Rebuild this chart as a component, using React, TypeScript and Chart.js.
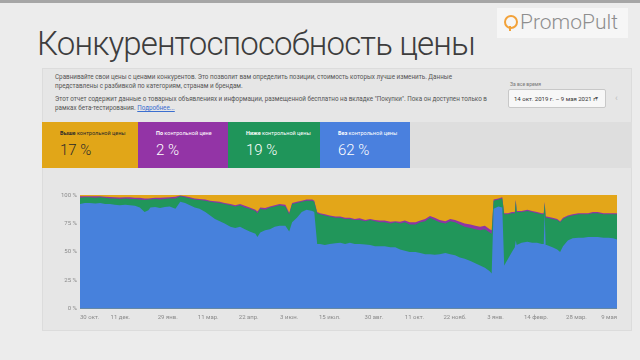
import React, { useEffect, useRef } from "react";
import { Chart, registerables } from "chart.js";

Chart.register(...registerables);

// x tick labels (day offsets from 30 Oct 2019)
const tickDays = [0, 42, 91, 133, 175, 217, 259, 305, 347, 389, 431, 473, 515, 557];
const tickLabels = ["30 окт.", "11 дек.", "29 янв.", "11 мар.", "22 апр.", "3 июн.", "15 июл.", "30 авг.", "11 окт.", "22 нояб.", "3 янв.", "14 февр.", "28 мар.", "9 мая"];
const yTicks = [0, 25, 50, 75, 100];

// sample days (offset from 30 Oct 2019)
const days = [0, 5, 10, 16, 21, 26, 31, 36, 41, 47, 52, 57, 62, 67, 71, 73, 78, 83, 88, 93, 99, 104, 109, 114, 119, 124, 130, 135, 140, 145, 150, 156, 161, 166, 171, 176, 182, 184, 187, 192, 197, 202, 207, 213, 217, 220, 225, 230, 235, 241, 243, 246, 249, 254, 259, 265, 270, 275, 280, 285, 290, 296, 301, 306, 311, 316, 322, 327, 332, 337, 342, 348, 353, 358, 363, 368, 373, 379, 384, 389, 394, 399, 405, 410, 415, 420, 425, 427, 429, 434, 438, 440, 444, 448, 451, 452, 453, 458, 464, 469, 474, 479, 481, 482, 483, 484, 490, 495, 498, 501, 506, 511, 517, 522, 527, 532, 537, 543, 548, 553, 557];

// "Без контрольной цены" (blue)
const noBenchmark = [92, 93, 93, 92.5, 93, 92, 92, 91.5, 91, 91.5, 91, 90.5, 89, 85, 86.5, 89, 89.5, 88.5, 89.5, 90, 88, 94, 93, 91, 89, 88, 85, 82, 79, 77, 75, 72, 71, 72, 70, 68, 66, 63, 67, 69, 70, 72, 73, 73, 68, 76, 80, 85, 87, 86, 85, 57, 57, 56, 57, 57.5, 58, 57, 58, 57, 57, 56.5, 56, 55, 55, 55, 54, 54, 52, 51, 50, 50, 49, 48, 48, 47.5, 48, 49, 48, 47, 45, 44, 42, 40, 38, 36, 33, 31, 88, 90, 89, 38, 44, 50, 54, 60, 56, 58, 59, 58, 58, 57, 57, 84, 56, 56, 54, 52, 50, 55, 60, 62, 62.5, 62.5, 63, 63, 63, 62.5, 62.5, 62, 61];
// "Ниже контрольной цены" (green)
const below = [5.5, 5, 5, 5, 5, 5.5, 5, 5.5, 5.5, 5.5, 5.5, 6, 7, 10.5, 9.5, 7, 7, 7.5, 7, 7, 9, 5, 5, 6, 7, 7.5, 10, 12, 14.5, 16, 17, 19, 19, 19, 19, 20, 20, 21, 21, 18, 19, 18, 18, 17, 15, 16, 13, 9, 8, 9, 9, 27, 26, 26, 24, 22.5, 22, 22, 21, 21, 21, 20.5, 22, 22, 21, 21, 21, 22, 23, 25, 24, 24, 27, 29, 32, 30.5, 28, 26, 29, 29, 29, 28, 29, 30, 31, 34, 34, 35, 7, 6, 8, 45, 39, 34, 30, 35, 29, 27, 27, 27, 26, 26, 26, 9, 24, 24, 25, 26, 26, 24, 21, 20, 20.5, 20.5, 20, 21, 21, 20.5, 20.5, 21, 22];
// "По контрольной цене" (purple)
const atBenchmark = [1.3, 1, 1, 1.3, 1, 1, 1.3, 1, 1.3, 1, 1.5, 1, 1.5, 1.5, 1, 1.2, 1, 1.5, 1.3, 1, 1.5, 0.5, 1, 1, 1, 1, 1, 1, 1, 1, 1, 1, 1, 1, 1.5, 1, 1, 1.5, 1, 1.5, 1, 1, 1, 1.5, 1.5, 1, 1, 1, 1, 1, 1, 1, 1, 1, 1, 1, 1, 1, 1, 1, 1.5, 1, 1, 1, 1.5, 1.5, 1.5, 1, 1.5, 1.5, 2, 2, 1.5, 2, 1.5, 2, 2, 2, 2, 2, 2.5, 3, 3, 3, 3, 3, 3, 3, 1, 1, 1, 1, 1, 1, 1, 1, 1, 1, 1, 1, 1, 1, 1, 1, 1, 1, 1, 1, 1, 1, 1, 1, 1, 1, 1, 1, 1, 1, 1, 1, 1];
// "Выше контрольной цены" (yellow)
const above = [1.2, 1, 1, 1.2, 1, 1.5, 1.7, 2, 2.2, 2, 2, 2.5, 2.5, 3, 3, 2.8, 2.5, 2.5, 2.2, 2, 1.5, 0.5, 1, 2, 3, 3.5, 4, 5, 5.5, 6, 7, 8, 9, 8, 9.5, 11, 13, 14.5, 11, 11.5, 10, 9, 8, 8.5, 15.5, 7, 6, 5, 4, 4, 5, 15, 16, 17, 18, 19, 19, 20, 20, 21, 20.5, 22, 21, 22, 22.5, 22.5, 23.5, 23, 23.5, 22.5, 24, 24, 22.5, 21, 18.5, 20, 22, 23, 21, 22, 23.5, 25, 26, 27, 28, 27, 30, 31, 4, 3, 2, 16, 16, 15, 15, 4, 14, 14, 13, 14, 15, 16, 16, 6, 19, 19, 20, 21, 23, 20, 18, 17, 16, 16, 16, 15, 15, 16, 16, 16, 16];

const cardTitlesBold = ["Выше", "По", "Ниже", "Без"];
const cardTitlesRest = [" контрольной цены", " контрольной цене", " контрольной цены", " контрольной цены"];
const cardValues = ["17 %", "2 %", "19 %", "62 %"];

const BLUE = "#4781dc";
const GREEN = "#21965a";
const PURPLE = "#8f35a4";
const YELLOW = "#e3a619";
const cardColors = ["#e1a618", "#9334a6", "#1f955a", "#4a80de"];
const cardText = ["#2a2a2a", "#ffffff", "#ffffff", "#ffffff"];

const FONT = "Roboto, 'Noto Sans', sans-serif";

export default function App() {
  const ref = useRef<HTMLCanvasElement>(null);

  useEffect(() => {
    const mk = (vals: number[], color: string) => ({
      data: days.map((d, i) => ({ x: d, y: vals[i] })),
      backgroundColor: color,
      borderColor: color,
      borderWidth: 0,
      pointRadius: 0,
      fill: "origin",
      tension: 0,
    });
    const chart = new Chart(ref.current as HTMLCanvasElement, {
      type: "line",
      data: {
        datasets: [
          mk(noBenchmark, BLUE),
          mk(below, GREEN),
          mk(atBenchmark, PURPLE),
          mk(above, YELLOW),
        ] as any,
      },
      options: {
        animation: false,
        responsive: false,
        events: [],
        layout: { padding: { left: 0, right: 15, top: 7, bottom: 0 } },
        plugins: { legend: { display: false }, tooltip: { enabled: false } },
        scales: {
          x: {
            type: "linear",
            min: 0,
            max: 557,
            grid: { display: false, drawTicks: false },
            border: { display: false },
            afterBuildTicks: (s: any) => {
              s.ticks = tickDays.map((v) => ({ value: v }));
            },
            ticks: {
              autoSkip: false,
              maxRotation: 0,
              minRotation: 0,
              align: "inner",
              padding: 5,
              font: { size: 6, family: FONT },
              color: "#8a8a8a",
              callback: (v: any) => {
                const k = tickDays.indexOf(Number(v));
                return k >= 0 ? tickLabels[k] : "";
              },
            },
          },
          y: {
            stacked: true,
            min: 0,
            max: 100,
            grid: { display: false, drawTicks: false },
            border: { display: false },
            afterBuildTicks: (s: any) => {
              s.ticks = yTicks.map((v) => ({ value: v }));
            },
            afterFit: (s: any) => {
              s.width = 38;
            },
            ticks: {
              padding: 3,
              font: { size: 6, family: FONT },
              color: "#8a8a8a",
              callback: (v: any) => v + " %",
            },
          },
        },
      } as any,
    });
    return () => chart.destroy();
  }, []);

  const abs = (l: number, t: number, extra: React.CSSProperties = {}): React.CSSProperties => ({
    position: "absolute",
    left: l,
    top: t,
    whiteSpace: "nowrap",
    ...extra,
  });

  const descStyle: React.CSSProperties = { fontSize: 6.3, color: "#555", lineHeight: "8px", fontFamily: FONT };

  return (
    <div style={{ position: "fixed", left: 0, top: 0, width: 640, height: 360, background: "#ececec", overflow: "hidden", fontFamily: FONT }}>
      <div style={abs(0, 0, { width: 640, height: 3, background: "#a6a6a6" })} />
      {/* logo */}
      <div style={abs(497, 8, { width: 131, height: 30, background: "#f6f6f6" })} />
      <div style={abs(504, 15, { width: 10, height: 10, border: "2px solid #f2a23a", borderRadius: "50%" })} />
      <div style={abs(509, 26, { width: 2, height: 5, background: "#f2a23a" })} />
      <div style={abs(520, 9, { fontSize: 21, color: "#8e8e8e", fontWeight: 300, lineHeight: "26px" })}>PromoPult</div>
      {/* title */}
      <div style={abs(37, 25, { fontSize: 33, color: "#3d3d3d", fontWeight: 300, lineHeight: "38px", letterSpacing: "-0.85px" })}>Конкурентоспособность цены</div>
      {/* panel */}
      <div style={abs(42, 68, { width: 590, height: 263, background: "#e6e6e6", border: "1px solid #dcdcdc", boxSizing: "border-box" })} />
      <div style={abs(55, 73, descStyle)}>Сравнивайте свои цены с ценами конкурентов. Это позволит вам определить позиции, стоимость которых лучше изменить. Данные</div>
      <div style={abs(55, 82, descStyle)}>представлены с разбивкой по категориям, странам и брендам.</div>
      <div style={abs(55, 95, descStyle)}>Этот отчет содержит данные о товарных объявлениях и информации, размещенной бесплатно на вкладке "Покупки". Пока он доступен только в</div>
      <div style={abs(55, 104, descStyle)}>
        рамках бета-тестирования. <span style={{ color: "#3b6fd0", textDecoration: "underline" }}>Подробнее...</span>
      </div>
      {/* date picker */}
      <div style={abs(510, 81, { fontSize: 5, color: "#777" })}>За все время</div>
      <div style={abs(508, 89, { width: 98, height: 19, background: "#f7f7f7", border: "1px solid #c8c8c8", borderRadius: 2, boxSizing: "border-box" })} />
      <div style={abs(514, 95, { fontSize: 6, color: "#333", lineHeight: "7px" })}>14 окт. 2019 г. – 9 мая 2021 г.</div>
      <div style={abs(595, 94, { fontSize: 6, color: "#555", lineHeight: "7px" })}>▾</div>
      <div style={abs(615, 93, { fontSize: 9, color: "#bbb", lineHeight: "10px" })}>‹</div>
      {/* KPI cards */}
      <div style={abs(410, 122, { width: 222, height: 46, background: "#dedede" })} />
      {cardValues.map((v, i) => {
        const lefts = [42, 138, 228, 320];
        const widths = [96, 90, 92, 90];
        return (
          <div key={i} style={abs(lefts[i], 122, { width: widths[i], height: 46, background: cardColors[i], color: cardText[i] })}>
            <div style={{ position: "absolute", left: 18, top: 8, fontSize: 5.5, whiteSpace: "nowrap" }}>
              <b>{cardTitlesBold[i]}</b>
              {cardTitlesRest[i]}
            </div>
            <div style={{ position: "absolute", left: 18, top: 19, fontSize: 15, fontWeight: 300, whiteSpace: "nowrap" }}>{v}</div>
          </div>
        );
      })}
      {/* chart */}
      <canvas ref={ref} width={590} height={138} style={{ position: "absolute", left: 42, top: 188, width: 590, height: 138 }} />
    </div>
  );
}
